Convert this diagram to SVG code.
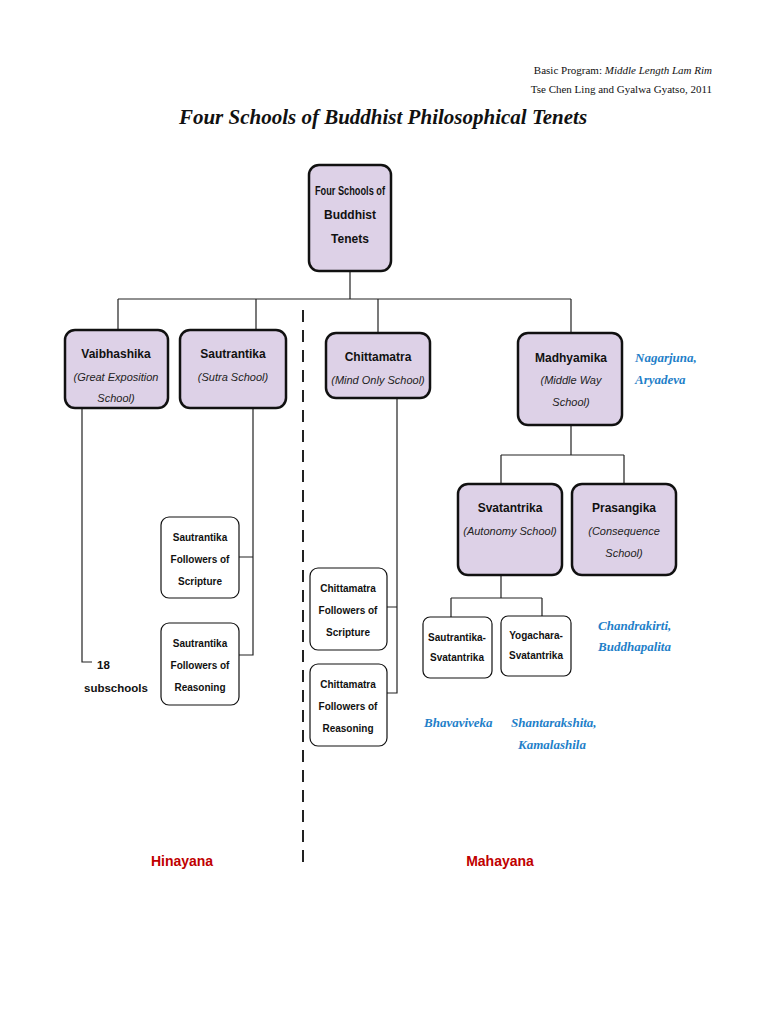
<svg xmlns="http://www.w3.org/2000/svg" width="768" height="1024" viewBox="0 0 768 1024">
<style>
.m{fill:#ddd1e7;stroke:#111;stroke-width:2.5}
.w{fill:#fff;stroke:#111;stroke-width:1.2}
.b{font-family:"Liberation Sans",Arial,sans-serif;font-weight:bold;font-size:12px;fill:#111;text-anchor:middle}
.i{font-family:"Liberation Sans",Arial,sans-serif;font-style:italic;font-size:11px;fill:#222;text-anchor:middle}
.s{font-family:"Liberation Sans",Arial,sans-serif;font-weight:bold;font-size:10px;fill:#111;text-anchor:middle}
.st{font-family:"Liberation Sans",Arial,sans-serif;font-weight:bold;font-size:11.5px;fill:#111}
.n{font-family:"Liberation Serif","Times New Roman",serif;font-style:italic;font-weight:bold;font-size:13px;fill:#1f7fc9}
.r{font-family:"Liberation Sans",Arial,sans-serif;font-weight:bold;font-size:14px;fill:#c00000;text-anchor:middle}
.c{fill:none;stroke:#222;stroke-width:1.2}
</style>
<rect width="768" height="1024" fill="#fff"/>
<g id="header" font-family="Liberation Serif,'Times New Roman',serif" font-size="11px" fill="#111" text-anchor="end">
<text x="712" y="74">Basic Program: <tspan font-style="italic">Middle Length Lam Rim</tspan></text>
<text x="712" y="93">Tse Chen Ling and Gyalwa Gyatso, 2011</text>
</g>
<text id="title" x="383" y="124" font-family="Liberation Serif,'Times New Roman',serif" font-weight="bold" font-style="italic" font-size="21px" text-anchor="middle" fill="#111">Four Schools of Buddhist Philosophical Tenets</text>
<g id="connectors" class="c">
<path d="M350 271V299M118 299H571M118 299V330M256 299V330M378 299V333M571 299V333"/>
<path d="M82 408V662H92"/>
<path d="M253 408V655H239M253 557H239"/>
<path d="M397 398V693H387M397 607H387"/>
<path d="M571 425V455M501 455H624M501 455V484M624 455V484"/>
<path d="M501 575V598M451 598H542M451 598V617M542 598V616"/>
<path d="M303 310V870" stroke-width="2" stroke-dasharray="12,8"/>
</g>
<g id="root"><rect class="m" x="309" y="165" width="82" height="106" rx="10"/>
<text class="b" x="350" y="195" font-size="11px" textLength="70" lengthAdjust="spacingAndGlyphs">Four Schools of</text><text class="b" x="350" y="219">Buddhist</text><text class="b" x="350" y="243">Tenets</text></g>
<g id="vaibhashika"><rect class="m" x="65" y="330" width="103" height="78" rx="10"/>
<text class="b" x="116" y="358">Vaibhashika</text><text class="i" x="116" y="381">(Great Exposition</text><text class="i" x="116" y="402">School)</text></g>
<g id="sautrantika"><rect class="m" x="180" y="330" width="106" height="78" rx="10"/>
<text class="b" x="233" y="358">Sautrantika</text><text class="i" x="233" y="381">(Sutra  School)</text></g>
<g id="chittamatra"><rect class="m" x="326" y="333" width="104" height="65" rx="10"/>
<text class="b" x="378" y="361">Chittamatra</text><text class="i" x="378" y="384">(Mind Only School)</text></g>
<g id="madhyamika"><rect class="m" x="518" y="333" width="104" height="92" rx="10"/>
<text class="b" x="571" y="362">Madhyamika</text><text class="i" x="571" y="384">(Middle Way</text><text class="i" x="571" y="406">School)</text></g>
<g id="svatantrika"><rect class="m" x="458" y="484" width="104" height="91" rx="10"/>
<text class="b" x="510" y="512">Svatantrika</text><text class="i" x="510" y="535">(Autonomy School)</text></g>
<g id="prasangika"><rect class="m" x="572" y="484" width="104" height="91" rx="10"/>
<text class="b" x="624" y="512">Prasangika</text><text class="i" x="624" y="535">(Consequence</text><text class="i" x="624" y="557">School)</text></g>
<g id="saut-scripture"><rect class="w" x="161" y="517" width="78" height="81" rx="8"/>
<text class="s" x="200" y="541">Sautrantika</text><text class="s" x="200" y="563">Followers of</text><text class="s" x="200" y="585">Scripture</text></g>
<g id="saut-reasoning"><rect class="w" x="161" y="623" width="78" height="82" rx="8"/>
<text class="s" x="200" y="647">Sautrantika</text><text class="s" x="200" y="669">Followers of</text><text class="s" x="200" y="691">Reasoning</text></g>
<g id="chitta-scripture"><rect class="w" x="310" y="568" width="77" height="82" rx="8"/>
<text class="s" x="348" y="592">Chittamatra</text><text class="s" x="348" y="614">Followers of</text><text class="s" x="348" y="636">Scripture</text></g>
<g id="chitta-reasoning"><rect class="w" x="310" y="664" width="77" height="82" rx="8"/>
<text class="s" x="348" y="688">Chittamatra</text><text class="s" x="348" y="710">Followers of</text><text class="s" x="348" y="732">Reasoning</text></g>
<g id="saut-svat"><rect class="w" x="423" y="617" width="69" height="61" rx="7"/>
<text class="s" x="457" y="641">Sautrantika-</text><text class="s" x="457" y="661">Svatantrika</text></g>
<g id="yoga-svat"><rect class="w" x="501" y="616" width="70" height="60" rx="7"/>
<text class="s" x="536" y="639">Yogachara-</text><text class="s" x="536" y="659">Svatantrika</text></g>
<g id="subschools"><text class="st" x="97" y="669">18</text><text class="st" x="84" y="692">subschools</text></g>
<g id="names">
<text class="n" x="635" y="362">Nagarjuna,</text><text class="n" x="635" y="384">Aryadeva</text>
<text class="n" x="598" y="630">Chandrakirti,</text><text class="n" x="598" y="651">Buddhapalita</text>
<text class="n" x="424" y="727">Bhavaviveka</text>
<text class="n" x="511" y="727">Shantarakshita,</text><text class="n" x="518" y="749">Kamalashila</text>
</g>
<text class="r" x="182" y="866">Hinayana</text>
<text class="r" x="500" y="866">Mahayana</text>
</svg>
